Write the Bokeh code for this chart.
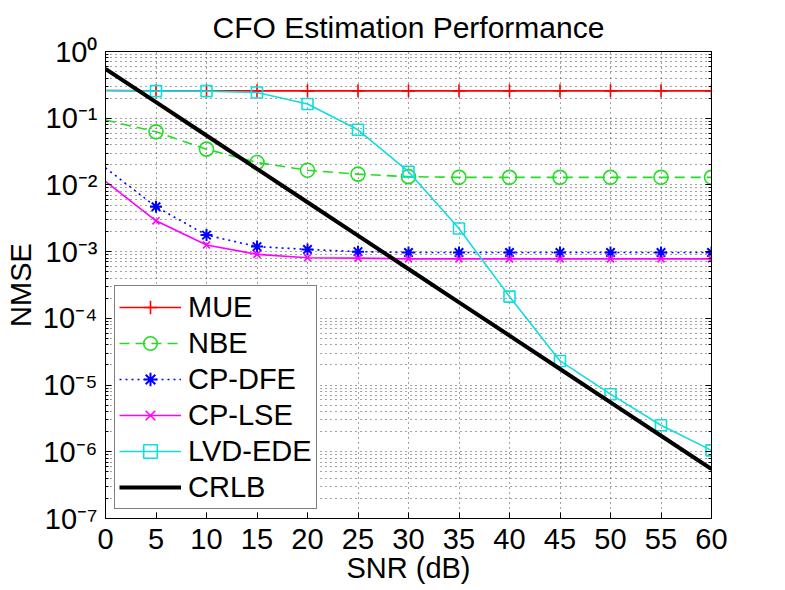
from bokeh.plotting import figure
from bokeh.models import (FixedTicker, LogAxis, CustomJSTickFormatter,
                          Legend, LegendItem, Range1d)
from bokeh.embed import file_html
from bokeh.resources import INLINE

snr = [0, 5, 10, 15, 20, 25, 30, 35, 40, 45, 50, 55, 60]
mue = [0.26, 0.257, 0.257, 0.257, 0.257, 0.257, 0.257, 0.257, 0.257, 0.257, 0.257, 0.257, 0.257]
nbe = [0.094, 0.0625, 0.0344, 0.0217, 0.0166, 0.0145, 0.0133, 0.013, 0.013, 0.013, 0.013, 0.013, 0.013]
cp_dfe = [0.018, 0.0047, 0.00177, 0.00119, 0.00108, 0.001, 0.00097, 0.00097, 0.00097, 0.00097, 0.00097, 0.00097, 0.00097]
cp_lse = [0.0113, 0.0029, 0.00126, 0.00091, 0.00081, 0.0008, 0.00078, 0.00078, 0.00078, 0.00078, 0.00078, 0.00078, 0.00078]
lvd_ede = [0.26, 0.255, 0.255, 0.243, 0.163, 0.067, 0.0158, 0.00222, 0.000212, 2.3e-5, 7.3e-6, 2.5e-6, 1.05e-6]
crlb = [0.55, 0.174, 0.055, 0.0174, 0.0055, 0.00174, 5.5e-4, 1.74e-4, 5.5e-5, 1.74e-5, 5.5e-6, 1.74e-6, 5.5e-7]

x_ticks = [0, 5, 10, 15, 20, 25, 30, 35, 40, 45, 50, 55, 60]
y_exps = [-7, -6, -5, -4, -3, -2, -1, 0]

FONT = "Liberation Sans"
FS = "29px"

y_major = [10.0 ** e for e in y_exps]
y_minor = [k * 10.0 ** e for e in y_exps[:-1] for k in range(2, 10)]

p = figure(frame_width=606, frame_height=467, y_axis_type="log",
           x_range=Range1d(0, 60), y_range=Range1d(1e-7, 1),
           output_backend="svg", toolbar_location=None,
           min_border_left=105, min_border_top=51, min_border_right=60,
           min_border_bottom=5,
           title="CFO Estimation Performance")
p.background_fill_color = "white"
p.border_fill_color = "white"
p.outline_line_color = "black"
p.outline_line_width = 1

p.title.text_font = FONT
p.title.text_font_size = "30px"
p.title.text_font_style = "normal"
p.title.text_color = "black"
p.title.align = "center"
p.title.standoff = 16

sup_js = """
const m = {"0":"\u2070","1":"\u00b9","2":"\u00b2","3":"\u00b3","4":"\u2074","5":"\u2075","6":"\u2076","7":"\u2077","8":"\u2078","9":"\u2079","-":"\u207b"};
const e = Math.round(Math.log10(tick));
return "10" + String(e).split("").map(c => m[c]).join("");
"""

yt = FixedTicker(ticks=y_major, minor_ticks=y_minor)
xt = FixedTicker(ticks=x_ticks)

ya = p.yaxis[0]
ya.ticker = yt
ya.formatter = CustomJSTickFormatter(code=sup_js)
ya.axis_label = "NMSE"
xa = p.xaxis[0]
xa.ticker = xt
xa.axis_label = "SNR (dB)"

for ax in (xa, ya):
    ax.major_label_text_font = FONT
    ax.major_label_text_font_size = FS
    ax.axis_label_text_font = FONT
    ax.axis_label_text_font_size = FS
    ax.axis_label_text_font_style = "normal"
    ax.major_tick_in = 6
    ax.major_tick_out = 0
    ax.minor_tick_in = 3
    ax.minor_tick_out = 0
    ax.axis_line_color = "black"
    ax.major_tick_line_color = "black"
    ax.minor_tick_line_color = "black"
    ax.major_label_text_color = "black"
    ax.axis_label_text_color = "black"
ya.major_label_standoff = 8
ya.axis_label_standoff = 3
xa.major_label_standoff = 10
xa.axis_label_standoff = 0

empty = CustomJSTickFormatter(code="return '';")
ra = LogAxis(ticker=yt, formatter=empty, major_tick_in=6, major_tick_out=0,
             minor_tick_in=3, minor_tick_out=0, major_label_standoff=0,
             major_label_text_font_size="1px")
p.add_layout(ra, "right")

# grids
GC = "#333333"
p.xgrid.grid_line_color = GC
p.xgrid.grid_line_dash = "1 4"
p.xgrid.grid_line_width = 1
p.xgrid.grid_line_alpha = 0.9
p.ygrid.grid_line_color = GC
p.ygrid.grid_line_dash = "1 4"
p.ygrid.grid_line_alpha = 0.9
p.ygrid.minor_grid_line_color = GC
p.ygrid.minor_grid_line_dash = "1 4"
p.ygrid.minor_grid_line_alpha = 0.9

mx = snr[1:]
LW = 1.6

r_mue_l = p.line(snr, mue, line_color="#ff0000", line_width=LW)
r_mue_m = p.scatter(mx, mue[1:], marker="cross", size=13, line_color="#ff0000",
                    fill_color=None, line_width=LW)

r_nbe_l = p.line(snr, nbe, line_color="#22dd22", line_width=LW, line_dash="10 6")
r_nbe_m = p.scatter(mx, nbe[1:], marker="circle", size=14, line_color="#22dd22",
                    fill_color=None, line_width=LW)

r_dfe_l = p.line(snr, cp_dfe, line_color="#0000ff", line_width=LW, line_dash="2 4")
r_dfe_m = p.scatter(mx, cp_dfe[1:], marker="asterisk", size=12, line_color="#0000ff",
                    fill_color=None, line_width=2)

r_lse_l = p.line(snr, cp_lse, line_color="#ff00ff", line_width=LW)
r_lse_m = p.scatter(mx, cp_lse[1:], marker="x", size=10, line_color="#ff00ff",
                    fill_color=None, line_width=LW)

r_lvd_l = p.line(snr, lvd_ede, line_color="#11dddd", line_width=LW)
r_lvd_m = p.scatter(mx, lvd_ede[1:], marker="square", size=11, line_color="#11dddd",
                    fill_color=None, line_width=LW)

r_crlb = p.line(snr, crlb, line_color="black", line_width=4)

legend = Legend(items=[
    LegendItem(label="MUE", renderers=[r_mue_l, r_mue_m]),
    LegendItem(label="NBE", renderers=[r_nbe_l, r_nbe_m]),
    LegendItem(label="CP-DFE", renderers=[r_dfe_l, r_dfe_m]),
    LegendItem(label="CP-LSE", renderers=[r_lse_l, r_lse_m]),
    LegendItem(label="LVD-EDE", renderers=[r_lvd_l, r_lvd_m]),
    LegendItem(label="CRLB", renderers=[r_crlb]),
], location=(9, 9))
legend.label_text_font = FONT
legend.label_text_font_size = FS
legend.label_text_color = "black"
legend.glyph_width = 62
legend.glyph_height = 34
legend.label_height = 34
legend.spacing = 2
legend.padding = 4
legend.margin = 0
legend.label_standoff = 7
legend.border_line_color = "black"
legend.border_line_width = 1
legend.background_fill_color = "white"
legend.background_fill_alpha = 1
p.add_layout(legend, "center")

open("out.html", "w").write(file_html(p, INLINE))
